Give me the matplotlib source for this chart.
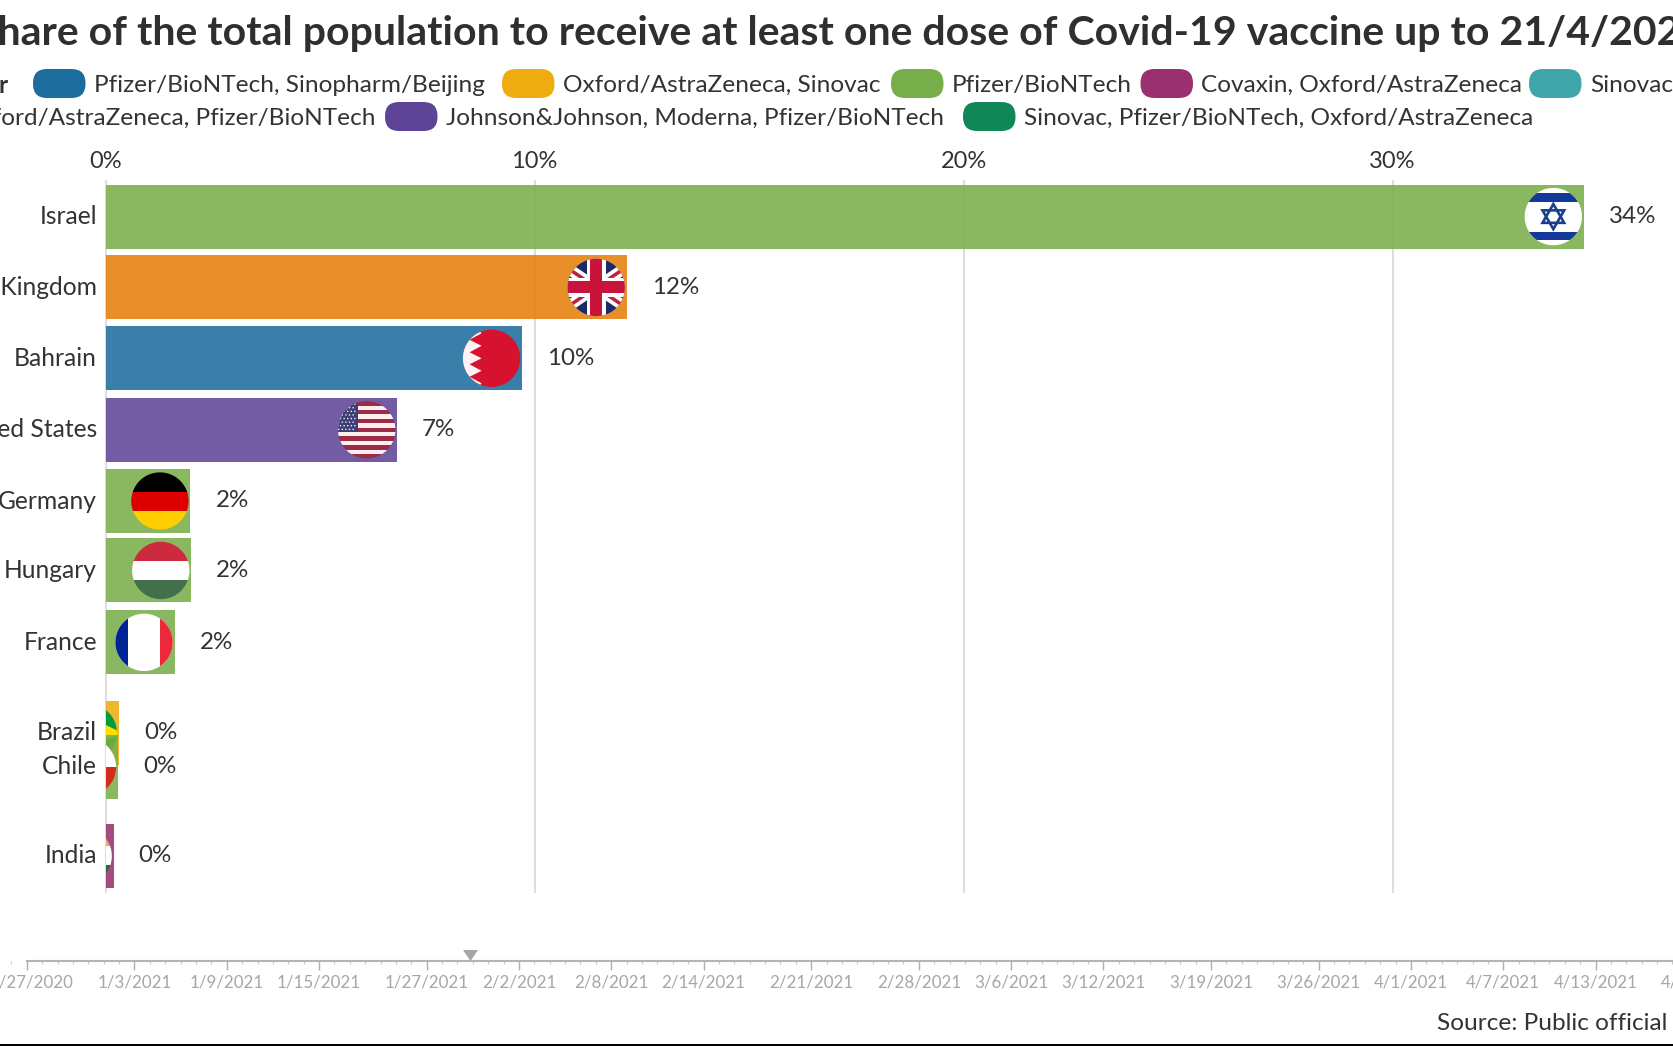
import numpy as np
import matplotlib
matplotlib.use("Agg")
import matplotlib.pyplot as plt
from matplotlib.patches import Circle, Rectangle, Polygon, PathPatch, FancyBboxPatch, RegularPolygon
from matplotlib.path import Path
from matplotlib.transforms import Affine2D, IdentityTransform
from matplotlib.ticker import MultipleLocator, FixedLocator, FixedFormatter

# ---------- data ----------
title = "Share of the total population to receive at least one dose of Covid-19 vaccine up to 21/4/2021"
source = "Source: Public official"
countries = ["Israel", "United Kingdom", "Bahrain", "United States", "Germany",
             "Hungary", "France", "Brazil", "Chile", "India"]
share_pct = [34.46, 12.15, 9.71, 6.80, 1.98, 2.00, 1.61, 0.31, 0.29, 0.19]
bar_rank = [0, 0.995, 1.99, 2.995, 3.995, 4.97, 5.98, 7.25, 7.73, 8.98]
vaccines = ["Pfizer/BioNTech", "Oxford/AstraZeneca, Pfizer/BioNTech",
            "Pfizer/BioNTech, Sinopharm/Beijing", "Johnson&Johnson, Moderna, Pfizer/BioNTech",
            "Pfizer/BioNTech", "Pfizer/BioNTech", "Pfizer/BioNTech",
            "Oxford/AstraZeneca, Sinovac", "Pfizer/BioNTech", "Covaxin, Oxford/AstraZeneca"]
axis_ticks = [0, 10, 20, 30]
legend_labels = ["Pfizer/BioNTech, Sinopharm/Beijing", "Oxford/AstraZeneca, Sinovac", "Pfizer/BioNTech",
                 "Covaxin, Oxford/AstraZeneca", "Sinovac", "Oxford/AstraZeneca, Pfizer/BioNTech",
                 "Johnson&Johnson, Moderna, Pfizer/BioNTech", "Sinovac, Pfizer/BioNTech, Oxford/AstraZeneca"]
legend_colors = ["#1D6C9E", "#EEAC10", "#77AE4A", "#99306F", "#3EA6AA", "#E67F0A", "#5E4496", "#108756"]
timeline_steps = [0, 7, 13, 19, 26, 32, 38, 44, 51, 58, 64, 70, 77, 84, 90, 96, 102, 109]
timeline_labels = ["12/27/2020", "1/3/2021", "1/9/2021", "1/15/2021", "1/27/2021", "2/2/2021",
                   "2/8/2021", "2/14/2021", "2/21/2021", "2/28/2021", "3/6/2021", "3/12/2021",
                   "3/19/2021", "3/26/2021", "4/1/2021", "4/7/2021", "4/13/2021", "4/19/2021"]
current_step = 28.8

# ---------- layout (pixels) ----------
W, H = 1673, 1046
FONT = "Lato"
TXT = "#333333"
plt.rcParams["font.family"] = [FONT, "DejaVu Sans"]
X0, PX_PER_PCT = 105.5, 42.9
Y0, ROW = 216.6, 71.2
PLOT_TOP, PLOT_BOT = 181, 892
BAR_H = 64 / ROW
R = 28.7
legend_rows = {0: 83.5, 1: 116.5}
legend_slots = [(0, 33), (0, 502), (0, 891), (0, 1140.5), (0, 1529),
                (1, -100), (1, 385), (1, 963)]

fig = plt.figure(figsize=(W / 100, H / 100), dpi=100, facecolor="white")

def axrect(l, t, r, b):
    return [l / W, 1 - b / H, (r - l) / W, (b - t) / H]

# ---------- main chart ----------
ax = fig.add_axes(axrect(X0, PLOT_TOP, W, PLOT_BOT))
ax.set_xlim(0, (W - X0) / PX_PER_PCT)
ax.set_ylim((PLOT_BOT - Y0) / ROW, (PLOT_TOP - Y0) / ROW)
ax.set_autoscale_on(False)
ax.patch.set_alpha(0)
for s in ax.spines.values():
    s.set_visible(False)
ax.set_axisbelow(True)
ax.grid(axis="x", color="#dedede", lw=1.5, clip_on=False)
ax.xaxis.tick_top()
ax.set_xticks(axis_ticks, [f"{t}%" for t in axis_ticks])
ax.tick_params(axis="x", length=0, pad=6.3, labelsize=17, labelcolor=TXT)
ax.set_yticks(bar_rank, countries)
ax.tick_params(axis="y", length=0, pad=6.2, labelsize=17.7, labelcolor=TXT)
for tick in ax.yaxis.get_major_ticks():
    tick.label1.set_transform(tick.label1.get_transform() + Affine2D().translate(0, 2))

color_of = dict(zip(legend_labels, legend_colors))


def band(x1, y1, x2, y2, w):
    d = np.array([x2 - x1, y2 - y1], float)
    n = np.array([-d[1], d[0]]) / np.hypot(*d) * w / 2
    a, b = np.array([x1, y1]), np.array([x2, y2])
    return [a + n, b + n, b - n, a - n]


def flag_parts(name):
    r = R + 1
    P = []
    def hb(y1, y2, c, x1=-r, x2=r):
        P.append(Rectangle((x1, y1), x2 - x1, y2 - y1, fc=c, ec="none"))
    def three(c1, c2, c3):
        hb(9.5, r, c1); hb(-9.5, 9.5, c2); hb(-r, -9.5, c3)
    if name == "Israel":
        hb(-r, r, "white")
        hb(15, 23.3, "#12389a"); hb(-23.3, -15, "#12389a")
        for o in (0, np.pi):
            P.append(RegularPolygon((0, 0), 3, radius=12.5, orientation=o, fc="none", ec="#1b3f8f", lw=1.9))
    elif name == "United Kingdom":
        hb(-r, r, "#1b2a68")
        for s in (1, -1):
            P.append(Polygon(band(-43, -29 * s, 43, 29 * s, 11), fc="white", ec="none"))
            P.append(Polygon(band(-43, -29 * s, 43, 29 * s, 3.5), fc="#c01f3d", ec="none"))
        hb(-9.5, 9.5, "white"); P.append(Rectangle((-9.5, -r), 19, 2 * r, fc="white", ec="none"))
        hb(-6, 6, "#c8143a"); P.append(Rectangle((-6, -r), 12, 2 * r, fc="#c8143a", ec="none"))
    elif name == "Bahrain":
        hb(-r, r, "#d6122f")
        ys = [30, 25, 18.5, 12.5, 6, 0, -6, -12.5, -18.5, -25, -30]
        xs = [-14, -10, -22, -10, -22, -10, -22, -10, -22, -10, -14]
        P.append(Polygon([(-r, 30)] + list(zip(xs, ys)) + [(-r, -30)], fc="#fdf3f5", ec="none"))
    elif name == "United States":
        h = 2 * R / 13
        for i in range(13):
            hb(R - (i + 1) * h, R - i * h, "#9e2b45" if i % 2 == 0 else "#fbeef0")
        P.append(Rectangle((-r, -2.3), r - 9, r + 2.3, fc="#3d3f74", ec="none"))
        for i, y in enumerate(np.arange(0.5, 28, 3.6)):
            for x in np.arange(-28 + (i % 2) * 1.8, -10, 3.6):
                P.append(Circle((x, y), 0.75, fc="white", ec="none"))
    elif name == "Germany":
        three("#000000", "#dd0000", "#ffce00")
    elif name == "Hungary":
        three("#cd2a3e", "#ffffff", "#436f4d")
    elif name == "France":
        hb(-r, r, "white"); hb(-r, r, "#002395", x2=-16); hb(-r, r, "#ed2939", x1=15.5)
    elif name == "Brazil":
        hb(-r, r, "#009b3a")
        P.append(Polygon([(-34, 0), (0, 16), (34, 0), (0, -16)], fc="#fedf00", ec="none"))
        P.append(Circle((0, 0), 10, fc="#002776", ec="none"))
    elif name == "Chile":
        hb(0, r, "white"); hb(-r, 0, "#d52b1e")
        P.append(Rectangle((-r, 0), r - 10, r, fc="#0039a6", ec="none"))
    elif name == "India":
        three("#f4a27a", "#ffffff", "#2f6b2f")
        P.append(Circle((0, 0), 6, fc="none", ec="#000080", lw=1))
    return P


for i, (name, val, rank, vac) in enumerate(zip(countries, share_pct, bar_rank, vaccines)):
    z = 3 + i * 0.1
    ax.barh(rank, val, height=BAR_H, color=color_of[vac], alpha=0.87, zorder=z)
    # flag: a disc inside the end of the bar, clipped by the bar
    ex, cy = ax.transData.transform((val, rank))
    cx = ex - 30.5
    t = np.linspace(0, 2 * np.pi, 181)
    clip = Path(np.c_[np.clip(cx + R * np.cos(t), ax.transData.transform((0, 0))[0], ex),
                      cy + R * np.sin(t)], closed=False)
    tf = Affine2D().translate(cx, cy)
    for p in flag_parts(name):
        p.set_transform(tf)
        p.set_zorder(z + 0.01)
        ax.add_patch(p)
        p.set_clip_path(clip, IdentityTransform())
    ax.annotate(f"{val:.0f}%", (val, rank), xytext=(18, 1.5), textcoords="offset points",
                ha="left", va="center_baseline", fontsize=17.4, color=TXT, zorder=10)

# ---------- timeline ----------
STEP_X0, STEP_PX = 26.8, 15.38
T_TOP, T_LINE = 947, 961
T_RIGHT = W + 120
tl = fig.add_axes(axrect(0, T_TOP, T_RIGHT, T_LINE))
tl.set_xlim(-STEP_X0 / STEP_PX, (T_RIGHT - STEP_X0) / STEP_PX)
tl.set_ylim(0, 1)
tl.patch.set_alpha(0)
for k in ("top", "left", "right"):
    tl.spines[k].set_visible(False)
tl.spines["bottom"].set_color("#b4b4b4")
tl.spines["bottom"].set_linewidth(1.5)
tl.spines["bottom"].set_bounds(0, tl.get_xlim()[1])
tl.set_yticks([])
tl.xaxis.set_major_locator(FixedLocator(timeline_steps))
tl.xaxis.set_major_formatter(FixedFormatter(timeline_labels))
tl.xaxis.set_minor_locator(MultipleLocator(1))
tl.tick_params(axis="x", which="major", length=6.5, width=1, color="#b0b0b0", pad=3.5,
               labelsize=12.2, labelcolor="#a6a6a6")
tl.tick_params(axis="x", which="minor", length=2.4, width=0.8, color="#c8c8c8")
tl.plot([current_step], [0.42], marker=[(-7.5, 5.5), (7.5, 5.5), (0, -5.5)], ms=10.8,
        color="#a6a6a9", mec="none", clip_on=False)

# ---------- overlay: title, legend, source ----------
ov = fig.add_axes([0, 0, 1, 1])
ov.set_xlim(0, W)
ov.set_ylim(H, 0)
ov.axis("off")
ov.text(840, 33, title, ha="center", va="center", fontsize=29.5, fontweight="bold", color="#2f2f2f")
ov.text(8, legend_rows[0] + 2, "r", ha="right", va="center", fontsize=17.6, fontweight="bold", color=TXT)
for label, col, (row, left) in zip(legend_labels, legend_colors, legend_slots):
    y = legend_rows[row]
    ov.add_patch(FancyBboxPatch((left, y - 14.5), 52.5, 29, boxstyle="round,pad=0,rounding_size=14",
                                fc=col, ec="none", clip_on=False))
    ov.text(left + 61, y + 2, label, ha="left", va="center", fontsize=17.6, color=TXT)
ov.text(1437, 1024, source, ha="left", va="center", fontsize=17.6, color=TXT)
ov.add_patch(Rectangle((0, H - 1.6), W, 1.6, fc="black", ec="none"))

fig.savefig("out.png", dpi=100)
